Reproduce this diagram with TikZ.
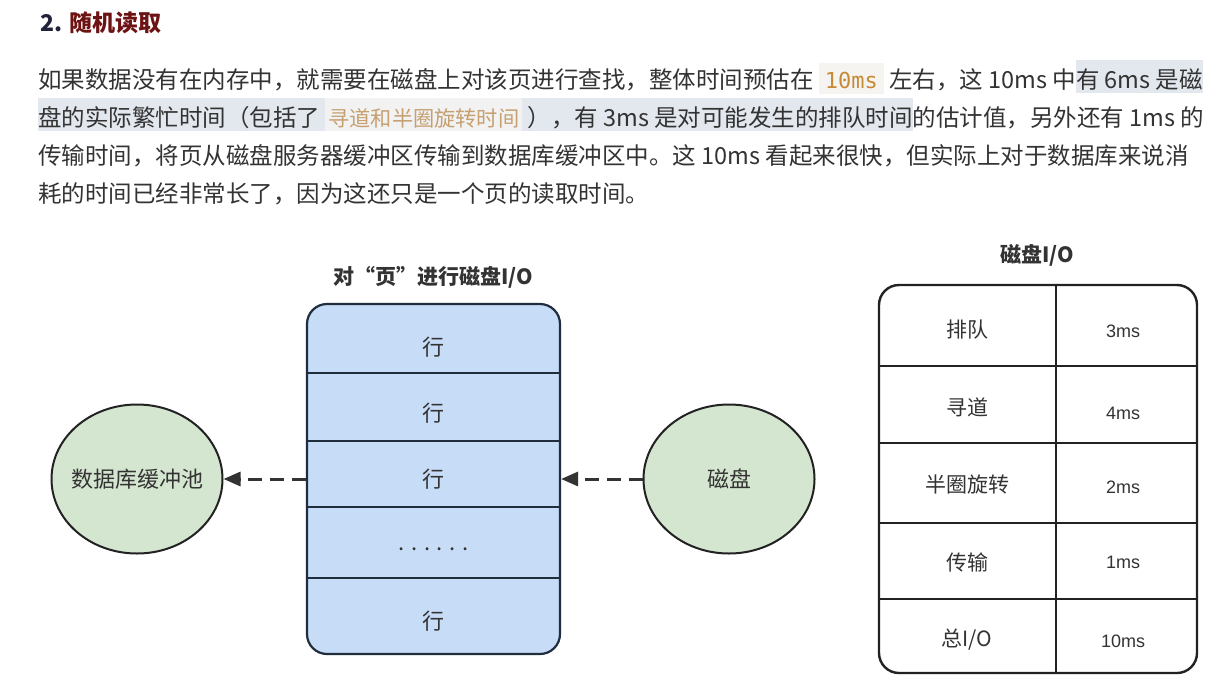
\documentclass[tikz,border=0pt]{standalone}
\usepackage{fontspec}
\setmainfont{Noto Sans CJK SC}
\newfontfamily\codefont{DejaVu Sans Mono}
\newfontfamily\valfont{Liberation Sans}
\usetikzlibrary{shapes.geometric,arrows.meta}
\definecolor{txtc}{HTML}{333333}
\definecolor{numc}{HTML}{22223A}
\definecolor{ttlc}{HTML}{6E1313}
\definecolor{hlgray}{HTML}{E3E7EE}
\definecolor{codebg}{HTML}{F6F4F0}
\definecolor{codeor}{HTML}{C78A36}
\definecolor{codebgb}{HTML}{F2F2F3}
\definecolor{codetan}{HTML}{C6A070}
\definecolor{pageblue}{HTML}{C6DCF7}
\definecolor{pageline}{HTML}{1F2D3D}
\definecolor{ellgreen}{HTML}{D5E6D0}
\definecolor{linec}{HTML}{222222}
\definecolor{arrc}{HTML}{333333}
\newcommand\hlseg[1]{{\setlength\fboxsep{0pt}\colorbox{hlgray}{\rule[-5pt]{0pt}{33pt}#1}}}
\newcommand\codeA[1]{{\setlength\fboxsep{0pt}\colorbox{codebg}{\rule[-6pt]{0pt}{31pt}\kern6pt\textcolor{codeor}{\codefont\fontsize{22pt}{22pt}\selectfont #1}\kern6pt}}}
\newcommand\codeB[1]{{\setlength\fboxsep{0pt}\colorbox{codebgb}{\rule[-5pt]{0pt}{33pt}\kern3pt\textcolor{codetan}{\fontsize{21.2pt}{22pt}\selectfont #1}\kern3pt}}}
\begin{document}
\begin{tikzpicture}[x=1pt,y=-1pt,
  bodytxt/.style={font=\fontsize{23.5pt}{28pt}\selectfont, text=txtc, inner sep=0pt, anchor=base west},
  diagtitle/.style={font=\fontsize{21pt}{24pt}\selectfont\bfseries, text=txtc, inner sep=0pt},
  pagebox/.style={draw=pageline, fill=pageblue, line width=2.2pt, rounded corners=20pt, minimum width=253pt, minimum height=350pt, inner sep=0pt},
  rowline/.style={draw=pageline, line width=2pt},
  rowtxt/.style={font=\fontsize{22pt}{24pt}\selectfont, text=txtc, inner sep=0pt},
  ell/.style={ellipse, draw=linec, fill=ellgreen, line width=2pt, minimum width=171pt, minimum height=149pt, inner sep=0pt, font=\fontsize{22pt}{24pt}\selectfont, text=txtc},
  dasharrow/.style={draw=arrc, line width=3pt, dash pattern=on 14pt off 8pt, -{Triangle[length=17pt,width=14pt]}},
  tblbox/.style={draw=linec, line width=2.4pt, rounded corners=20pt, minimum width=318pt, minimum height=388pt, inner sep=0pt},
  tblline/.style={draw=linec, line width=2.4pt},
  celltxt/.style={font=\fontsize{21pt}{24pt}\selectfont, text=txtc, inner sep=0pt},
  valtxt/.style={font=\valfont\fontsize{18pt}{20pt}\selectfont, text=txtc, inner sep=0pt}
]
\useasboundingbox[fill=white] (0,0) rectangle (1226,680);

% heading
\node[inner sep=0pt, anchor=base west, font=\fontsize{23pt}{26pt}\selectfont\bfseries] (ttl) at (40,31) {\textcolor{numc}{2.} \textcolor{ttlc}{随机读取}};

% paragraph
\node[bodytxt] (l1) at (38,88) {如果数据没有在内存中，就需要在磁盘上对该页进行查找，整体时间预估在 \codeA{10ms} 左右，这 10ms 中\hlseg{有 6ms 是磁}};
\node[bodytxt] (l2) at (38,126) {\hlseg{盘的实际繁忙时间（包括了 \codeB{寻道和半圈旋转时间} ），有 3ms 是对可能发生的排队时间}的估计值，另外还有 1ms 的};
\node[bodytxt] (l3) at (38,164) {传输时间，将页从磁盘服务器缓冲区传输到数据库缓冲区中。这 10ms 看起来很快，但实际上对于数据库来说消};
\node[bodytxt] (l4) at (38,202) {耗的时间已经非常长了，因为这还只是一个页的读取时间。};

% page diagram
\node[diagtitle] (ptitle) at (433,277) {对“页”进行磁盘I/O};
\node[pagebox] (page) at (433.5,479) {};
\draw[rowline] (page.west |- 0,373) -- (page.east |- 0,373);
\draw[rowline] (page.west |- 0,441) -- (page.east |- 0,441);
\draw[rowline] (page.west |- 0,507) -- (page.east |- 0,507);
\draw[rowline] (page.west |- 0,578) -- (page.east |- 0,578);
\node[rowtxt] (r1) at (433.5,347) {行};
\node[rowtxt] (r2) at (433.5,413) {行};
\node[rowtxt] (r3) at (433.5,479) {行};
\node[rowtxt, anchor=base] (r4) at (433.5,550) {. . . . . .};
\node[rowtxt] (r5) at (433.5,621) {行};

\node[ell] (buf) at (137,479) {\makebox[0pt]{数据库缓冲池}};
\node[ell] (disk) at (729,479) {\makebox[0pt]{磁盘}};

\draw[dasharrow] (page.west) -- (buf.east);
\draw[dasharrow] (disk.west) -- (page.east);

% table
\node[diagtitle] (ttitle) at (1037,255) {磁盘I/O};
\node[tblbox] (tbl) at (1038,479) {};
\draw[tblline] (tbl.north -| 1056,0) -- (tbl.south -| 1056,0);
\draw[tblline] (tbl.west |- 0,366) -- (tbl.east |- 0,366);
\draw[tblline] (tbl.west |- 0,443) -- (tbl.east |- 0,443);
\draw[tblline] (tbl.west |- 0,523) -- (tbl.east |- 0,523);
\draw[tblline] (tbl.west |- 0,599) -- (tbl.east |- 0,599);
\node[celltxt] (c1) at (967,330) {排队};
\node[celltxt] (c2) at (967,407) {寻道};
\node[celltxt] (c3) at (967,485) {半圈旋转};
\node[celltxt] (c4) at (967,562) {传输};
\node[celltxt] (c5) at (967,640) {总I/O};
\node[valtxt] (v1) at (1123,331) {3ms};
\node[valtxt] (v2) at (1123,413) {4ms};
\node[valtxt] (v3) at (1123,487) {2ms};
\node[valtxt] (v4) at (1123,562) {1ms};
\node[valtxt] (v5) at (1123,641) {10ms};
\end{tikzpicture}
\end{document}
